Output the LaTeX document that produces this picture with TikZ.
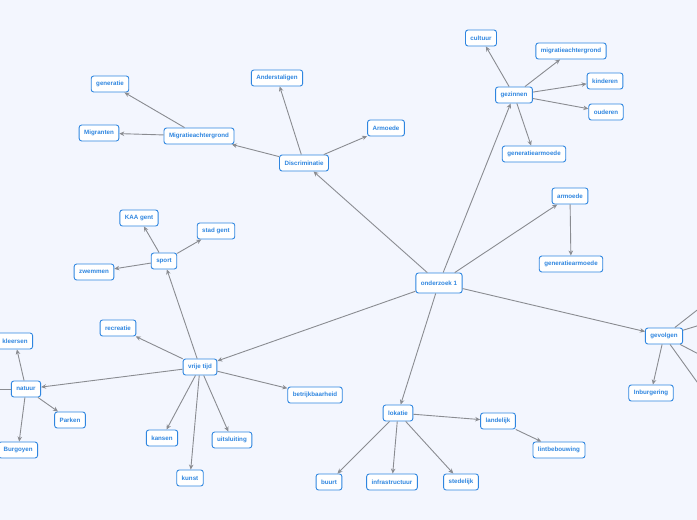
\documentclass[tikz,border=0pt]{standalone}
\usepackage{fontspec}
\setmainfont{Liberation Sans}
\usetikzlibrary{arrows.meta}
\definecolor{bg}{HTML}{F3F6FE}
\definecolor{bl}{HTML}{2F86E0}
\definecolor{ln}{HTML}{8A8C91}
\tikzset{
 nd/.style={draw=bl,line width=0.9pt,fill=white,rounded corners=2.5pt,text=bl,font=\bfseries\fontsize{6.2}{7}\selectfont,minimum height=16pt,inner xsep=5pt},
 ed/.style={draw=ln,line width=0.9pt,-{Stealth[length=5pt,width=4.5pt]}},
 el/.style={draw=ln,line width=0.9pt}
}
\begin{document}
\begin{tikzpicture}[x=1pt,y=-1pt]
\fill[bg] (0,0) rectangle (697,520);
\useasboundingbox (0,0) rectangle (697,520);
\clip (0,0) rectangle (697,520);
\node[nd,minimum height=20pt] (o) at (439,283) {onderzoek 1};
\node[nd] (gez) at (514,95) {gezinnen};
\node[nd] (cul) at (481,38) {cultuur};
\node[nd] (mig1) at (571,51) {migratieachtergrond};
\node[nd] (kin) at (605,81) {kinderen};
\node[nd] (oud) at (606,112) {ouderen};
\node[nd] (ga1) at (534,154) {generatiearmoede};
\node[nd] (arm) at (570,196) {armoede};
\node[nd] (ga2) at (571,264) {generatiearmoede};
\node[nd] (dis) at (304,163) {Discriminatie};
\node[nd] (and) at (277,78) {Anderstaligen};
\node[nd] (Arm) at (386,128) {Armoede};
\node[nd] (Mig) at (199,136) {Migratieachtergrond};
\node[nd] (gen) at (110,84) {generatie};
\node[nd] (Mgr) at (99,133) {Migranten};
\node[nd] (spo) at (164,261) {sport};
\node[nd] (kaa) at (139,218) {KAA gent};
\node[nd] (sta) at (216,231) {stad gent};
\node[nd] (zwe) at (94,272) {zwemmen};
\node[nd] (vri) at (200,367) {vrije tijd};
\node[nd] (rec) at (118,328) {recreatie};
\node[nd] (nat) at (26,389) {natuur};
\node[nd,anchor=east] (kle) at (33,341) {kleersen};
\node[nd,anchor=east] (bur) at (38,450) {Burgoyen};
\node[nd] (par) at (70,420) {Parken};
\node[nd] (kan) at (162,438) {kansen};
\node[nd] (uit) at (232,440) {uitsluiting};
\node[nd] (kun) at (190,478) {kunst};
\node[nd] (bet) at (315,395) {betrijkbaarheid};
\node[nd] (lok) at (398,413) {lokatie};
\node[nd] (buu) at (329,482) {buurt};
\node[nd] (inf) at (392,482) {infrastructuur};
\node[nd] (ste) at (461,482) {stedelijk};
\node[nd] (lan) at (498,421) {landelijk};
\node[nd] (lin) at (559,450) {lintbebouwing};
\node[nd] (gev) at (664,336) {gevolgen};
\node[nd] (inb) at (651,393) {Inburgering};
\coordinate (g1) at (710,300);
\coordinate (g2) at (710,322);
\coordinate (g3) at (710,360);
\coordinate (g4) at (710,400);
\coordinate (n1) at (-20,389);
\begin{scope}[on background layer/.style={}]
\path[ed] (o) -- (gez);
\path[ed] (gez) -- (cul);
\path[ed] (gez) -- (mig1);
\path[ed] (gez) -- (kin);
\path[ed] (gez) -- (oud);
\path[ed] (gez) -- (ga1);
\path[ed] (o) -- (arm);
\path[ed] (arm) -- (ga2);
\path[ed] (o) -- (dis);
\path[ed] (dis) -- (and);
\path[ed] (dis) -- (Arm);
\path[ed] (dis) -- (Mig);
\path[ed] (Mig) -- (gen);
\path[ed] (Mig) -- (Mgr);
\path[ed] (o) -- (vri);
\path[ed] (vri) -- (spo);
\path[ed] (spo) -- (kaa);
\path[ed] (spo) -- (sta);
\path[ed] (spo) -- (zwe);
\path[ed] (vri) -- (rec);
\path[ed] (vri) -- (nat);
\path[ed] (nat) -- (kle);
\path[ed] (nat) -- (bur);
\path[ed] (nat) -- (par);
\path[el] (nat) -- (n1);
\path[ed] (vri) -- (kan);
\path[ed] (vri) -- (uit);
\path[ed] (vri) -- (kun);
\path[ed] (vri) -- (bet);
\path[ed] (o) -- (lok);
\path[ed] (lok) -- (buu);
\path[ed] (lok) -- (inf);
\path[ed] (lok) -- (ste);
\path[ed] (lok) -- (lan);
\path[ed] (lan) -- (lin);
\path[ed] (o) -- (gev);
\path[ed] (gev) -- (inb);
\path[el] (gev) -- (g1);
\path[el] (gev) -- (g2);
\path[el] (gev) -- (g3);
\path[el] (gev) -- (g4);
\end{scope}
\end{tikzpicture}
\end{document}
